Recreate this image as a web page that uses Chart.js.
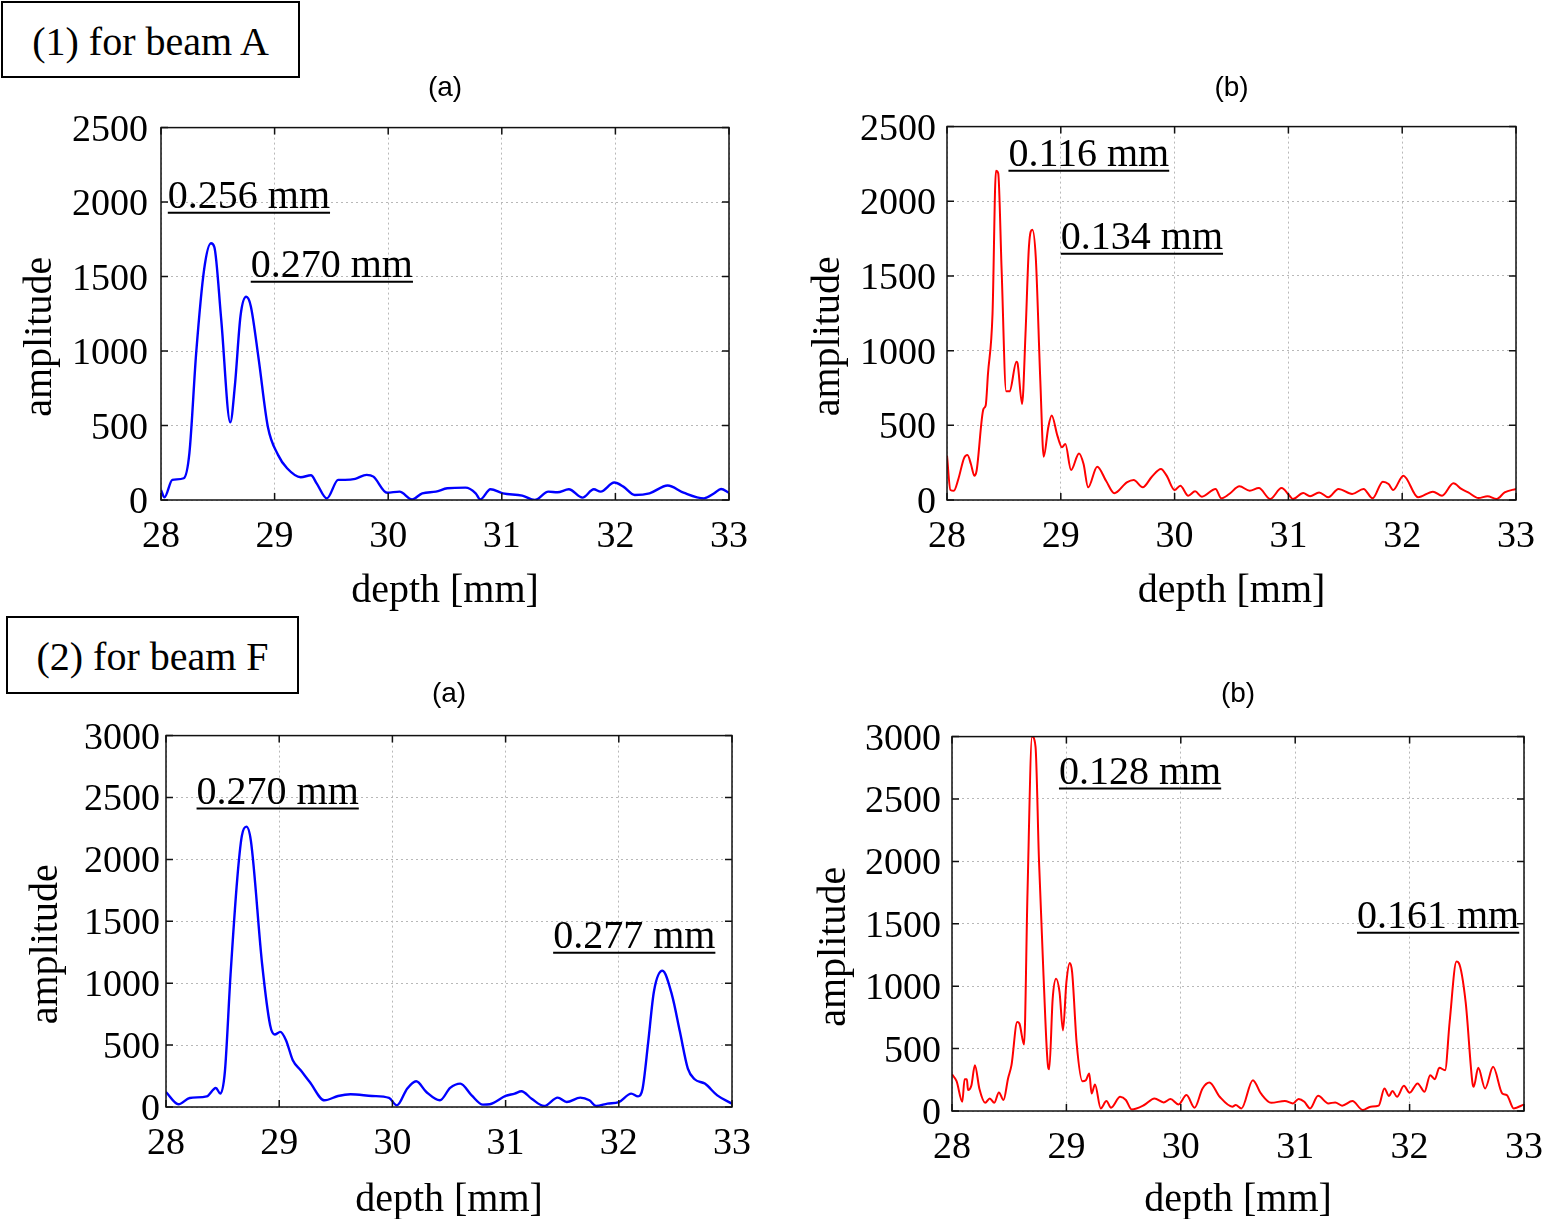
<!DOCTYPE html>
<html>
<head>
<meta charset="utf-8">
<script src="https://cdn.jsdelivr.net/npm/chart.js@4.4.0/dist/chart.umd.min.js"></script>
<style>
  body { margin: 0; width: 1551px; height: 1219px; overflow: hidden; background: #fff; position: relative; }
  canvas { position: absolute; }
  .tag { position: absolute; border: 2px solid #000; font-family: 'Liberation Serif', serif; font-size: 40px;
         display: flex; align-items: center; justify-content: center; box-sizing: border-box; z-index: 2; background: #fff; }
</style>
</head>
<body>
<div class="tag" style="left:1px;top:1px;width:299px;height:77px;padding-top:3px;">(1) for beam A</div>
<div class="tag" style="left:6px;top:616px;width:293px;height:78px;padding-top:3px;">(2) for beam F</div>
<canvas id="c1" width="762" height="570" style="left:0;top:60px"></canvas>
<canvas id="c2" width="763" height="570" style="left:786px;top:60px"></canvas>
<canvas id="c3" width="760" height="560" style="left:5px;top:666px"></canvas>
<canvas id="c4" width="766" height="560" style="left:791px;top:666px"></canvas>
<script>
// beam A, (a) blue
var depthAa = [28.0,28.03,28.1,28.2,28.25,28.31,28.38,28.44,28.47,28.53,28.61,28.65,28.70,28.75,28.79,28.86,28.94,29.03,29.11,29.23,29.32,29.37,29.46,29.56,29.62,29.71,29.81,29.87,29.99,30.10,30.21,30.30,30.42,30.52,30.68,30.77,30.81,30.90,31.01,31.18,31.29,31.41,31.49,31.59,31.71,31.81,31.87,31.99,32.07,32.17,32.30,32.46,32.60,32.78,32.87,32.93,33.0];
var ampAa = [67,18,135,146,315,990,1550,1724,1697,1213,521,764,1236,1364,1303,944,494,303,213,153,166,112,11,135,135,142,169,157,49,56,4,45,56,79,83,45,4,72,45,29,0,56,52,72,16,72,56,117,90,34,45,97,49,11,45,74,49];

// beam A, (b) red
var depthAb = [28.0,28.03,28.06,28.10,28.15,28.18,28.21,28.24,28.26,28.32,28.34,28.36,28.40,28.43,28.45,28.48,28.52,28.55,28.61,28.62,28.66,28.69,28.72,28.75,28.78,28.82,28.85,28.89,28.92,28.97,29.01,29.04,29.09,29.16,29.20,29.24,29.32,29.40,29.47,29.58,29.64,29.72,29.80,29.88,29.93,30.00,30.05,30.12,30.18,30.24,30.36,30.41,30.48,30.57,30.66,30.74,30.84,30.94,31.01,31.04,31.13,31.19,31.27,31.35,31.44,31.56,31.66,31.74,31.83,31.88,31.92,32.01,32.14,32.27,32.35,32.45,32.52,32.58,32.67,32.75,32.83,32.90,33.0];
var ampAb = [297,67,62,141,281,301,241,163,196,609,632,844,1246,2205,2188,1540,728,728,926,915,643,1116,1696,1810,1625,799,290,487,565,431,353,375,201,312,241,85,223,125,45,118,134,85,156,208,163,67,96,29,58,22,74,11,40,92,62,80,7,80,29,7,47,25,51,18,74,40,74,11,123,107,67,163,18,56,29,112,74,51,13,25,7,51,74];

// beam F, (a) blue
var depthFa = [28.0,28.11,28.21,28.36,28.44,28.48,28.52,28.57,28.63,28.67,28.71,28.75,28.85,28.92,28.96,29.01,29.06,29.12,29.19,29.27,29.40,29.52,29.63,29.82,29.97,30.04,30.13,30.21,30.30,30.42,30.51,30.60,30.70,30.80,30.86,31.00,31.08,31.14,31.23,31.34,31.46,31.54,31.66,31.74,31.80,31.90,32.0,32.11,32.17,32.21,32.26,32.31,32.385,32.47,32.54,32.61,32.67,32.76,32.87,33.0];
var ampFa = [121,22,73,86,154,108,283,1066,1849,2190,2265,2150,1147,661,586,607,540,378,297,202,54,89,103,89,73,13,148,208,121,54,154,189,94,19,22,89,108,127,67,8,76,40,76,54,8,27,40,108,86,148,526,931,1100,904,607,310,224,189,94,27];

// beam F, (b) red
var depthFb = [28.0,28.04,28.09,28.11,28.13,28.14,28.17,28.20,28.24,28.29,28.33,28.37,28.41,28.45,28.49,28.52,28.57,28.59,28.63,28.66,28.70,28.73,28.76,28.80,28.84,28.85,28.88,28.91,28.94,28.97,29.00,29.03,29.05,29.09,29.14,29.17,29.20,29.22,29.25,29.30,29.35,29.39,29.47,29.52,29.57,29.68,29.77,29.85,29.91,29.98,30.05,30.12,30.19,30.25,30.34,30.45,30.48,30.53,30.63,30.70,30.79,30.91,30.98,31.03,31.08,31.13,31.20,31.29,31.35,31.41,31.50,31.59,31.66,31.73,31.78,31.82,31.85,31.89,31.95,32.00,32.07,32.13,32.18,32.22,32.26,32.31,32.35,32.41,32.43,32.49,32.55,32.56,32.60,32.66,32.73,32.81,32.85,32.91,33.0];
var ampFb = [293,239,74,255,255,168,207,367,176,66,101,66,149,88,261,367,713,699,532,1750,3000,2920,2016,1085,354,335,899,1059,952,646,1032,1186,1112,540,239,247,301,141,213,21,80,27,114,88,13,48,101,69,96,53,128,27,181,229,114,35,48,21,247,141,66,80,61,96,74,21,122,61,69,43,80,8,35,43,181,120,160,114,202,146,221,154,287,255,346,327,713,1197,1186,872,221,194,346,181,354,141,128,21,53];

// peak width labels: text, depth, amplitude (underline position)
var labelsAa = [['0.256 mm', 28.06, 1929], ['0.270 mm', 28.79, 1465]];
var labelsAb = [['0.116 mm', 28.54, 2205], ['0.134 mm', 29.0, 1649]];
var labelsFa = [['0.270 mm', 28.27, 2411], ['0.277 mm', 31.42, 1246]];
var labelsFb = [['0.128 mm', 28.935, 2584], ['0.161 mm', 31.54, 1428]];

var xTicks = [28, 29, 30, 31, 32, 33];

var serif = 'Liberation Serif';

// frame, inward ticks, y title and underlined labels
var framePlugin = {
    id: 'frame',
    afterDatasetsDraw: function (chart, args, opts) {
        var ctx = chart.ctx, a = chart.chartArea;
        var xs = chart.scales.x, ys = chart.scales.y;
        ctx.save();
        ctx.strokeStyle = '#111';
        ctx.lineWidth = 1.5;
        ctx.strokeRect(a.left, a.top, a.right - a.left, a.bottom - a.top);
        ctx.beginPath();
        xs.ticks.forEach(function (t) {
            var px = xs.getPixelForValue(t.value);
            ctx.moveTo(px, a.bottom); ctx.lineTo(px, a.bottom - 7);
            ctx.moveTo(px, a.top); ctx.lineTo(px, a.top + 7);
        });
        ys.ticks.forEach(function (t) {
            var py = ys.getPixelForValue(t.value);
            ctx.moveTo(a.left, py); ctx.lineTo(a.left + 7, py);
            ctx.moveTo(a.right, py); ctx.lineTo(a.right - 7, py);
        });
        ctx.stroke();

        ctx.fillStyle = '#000';
        ctx.strokeStyle = '#000';
        ctx.font = '40px "' + serif + '"';

        // y axis title
        ctx.save();
        ctx.translate(opts.yTitleX, (a.top + a.bottom) / 2 + 23);
        ctx.rotate(-Math.PI / 2);
        ctx.textAlign = 'center';
        ctx.textBaseline = 'middle';
        ctx.fillText('amplitude', 0, 0);
        ctx.restore();

        ctx.lineWidth = 2;
        ctx.textBaseline = 'alphabetic';
        ctx.textAlign = 'left';
        (opts.labels || []).forEach(function (l) {
            var px = xs.getPixelForValue(l[1]);
            var py = ys.getPixelForValue(l[2]);
            var w = ctx.measureText(l[0]).width;
            ctx.fillText(l[0], px, py - 5);
            ctx.beginPath();
            ctx.moveTo(px, py); ctx.lineTo(px + w, py);
            ctx.stroke();
        });
        ctx.restore();
    }
};

function makeChart(id, title, depth, amp, color, yMax, labels, lay) {
    var pts = depth.map(function (d, i) { return { x: d, y: amp[i] }; });
    return new Chart(document.getElementById(id), {
        type: 'line',
        data: {
            datasets: [{
                data: pts,
                borderColor: color,
                borderWidth: lay.lw,
                pointRadius: 0,
                fill: false,
                cubicInterpolationMode: 'monotone'
            }]
        },
        options: {
            responsive: false,
            animation: false,
            devicePixelRatio: 1,
            layout: { padding: 0 },
            plugins: {
                legend: { display: false },
                tooltip: { enabled: false },
                title: {
                    display: true,
                    text: title,
                    fullSize: false,
                    color: '#000',
                    font: { family: 'Liberation Sans', size: 28, weight: 'normal' },
                    padding: { top: lay.tTop, bottom: lay.tBottom }
                },
                frame: { labels: labels, yTitleX: lay.yTitleX }
            },
            scales: {
                x: {
                    type: 'linear',
                    min: 28, max: 33,
                    afterBuildTicks: function (s) { s.ticks = xTicks.map(function (v) { return { value: v }; }); },
                    afterFit: function (s) { s.height = lay.xh; },
                    grid: { color: '#b8b8b8', lineWidth: 1, drawTicks: false },
                    border: { display: false, dash: [2, 3] },
                    ticks: { color: '#000', padding: 14, font: { family: serif, size: 38 },
                             callback: function (v) { return String(v); } },
                    title: { display: true, text: 'depth [mm]', color: '#000', font: { family: serif, size: 40 }, padding: { top: 0, bottom: lay.xtPad } }
                },
                y: {
                    min: 0, max: yMax,
                    afterFit: function (s) { s.width = 161; },
                    grid: { color: '#b8b8b8', lineWidth: 1, drawTicks: false },
                    border: { display: false, dash: [2, 3] },
                    ticks: { color: '#000', stepSize: 500, padding: lay.ytPad, labelOffset: 3, font: { family: serif, size: 38 },
                             callback: function (v) { return String(v); } },
                    title: { display: false }
                }
            }
        },
        plugins: [framePlugin]
    });
}

makeChart('c1', '(a)', depthAa, ampAa, '#0000ff', 2500, labelsAa,
    { lw: 2.4, tTop: 11, tBottom: 23, xh: 130, xtPad: 15, ytPad: 13, yTitleX: 40 });
makeChart('c2', '(b)', depthAb, ampAb, '#ff0000', 2500, labelsAb,
    { lw: 2, tTop: 11, tBottom: 22, xh: 130, xtPad: 15, ytPad: 11, yTitleX: 42 });
makeChart('c3', '(a)', depthFa, ampFa, '#0000ff', 3000, labelsFa,
    { lw: 2.4, tTop: 11, tBottom: 25, xh: 119, xtPad: 2, ytPad: 6, yTitleX: 41 });
makeChart('c4', '(b)', depthFb, ampFb, '#ff0000', 3000, labelsFb,
    { lw: 2, tTop: 11, tBottom: 26, xh: 115, xtPad: 2, ytPad: 11, yTitleX: 43 });
</script>
</body>
</html>
